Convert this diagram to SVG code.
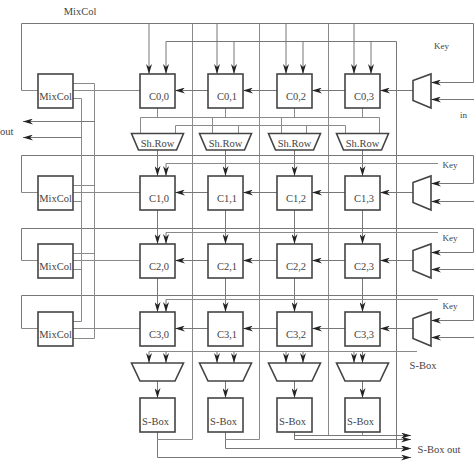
<svg xmlns="http://www.w3.org/2000/svg" width="474" height="461" viewBox="0 0 474 461">
<defs>
<marker id="ah" markerWidth="10" markerHeight="6" refX="10" refY="3" orient="auto" markerUnits="userSpaceOnUse"><path d="M0,0 L10,3 L0,6 L3,3 z" fill="#222"/></marker>
<style>
.c{fill:none;stroke:#8a8a8a;stroke-width:1}
.a{fill:none;stroke:#777;stroke-width:1;marker-end:url(#ah)}
.b{fill:#fff;stroke:#444;stroke-width:1.6}
.t{font-family:"Liberation Serif","Times New Roman",serif;font-size:10.5px;fill:#444;text-anchor:middle}
.k{font-family:"Liberation Serif","Times New Roman",serif;font-size:9px;fill:#444;text-anchor:middle}
</style>
</defs>
<rect width="474" height="461" fill="#fff"/>
<g id="connectors">
<path class="c" d="M192.5,23.5 V439.5 M259.5,23.5 V439.5 M328.5,23.5 V435.5"/>
<path class="a" d="M21.5,90.5 V23.5 H473.5 V82.5 H431"/>
<path class="c" d="M21.5,90.5 H140"/>
<path class="a" d="M166,41.5 H396.5 V448.5 H411"/>
<path class="a" d="M474,99.5 H431"/>
<path class="a" d="M149,23.5 V74"/><path class="a" d="M166,41.5 V74"/>
<path class="a" d="M217,23.5 V74"/><path class="a" d="M234,41.5 V74"/>
<path class="a" d="M286,23.5 V74"/><path class="a" d="M303,41.5 V74"/>
<path class="a" d="M354,23.5 V74"/><path class="a" d="M371,41.5 V74"/>
<path class="a" d="M208,90.5 H175"/><path class="a" d="M277,90.5 H243"/>
<path class="a" d="M345,90.5 H312"/><path class="a" d="M413,90.5 H380"/>
<path class="c" d="M157.5,108 V117.5 M225.5,108 V117.5 M294.5,108 V117.5 M362.5,108 V117.5"/>
<path class="c" d="M140.5,133 V117.5 H379.5 V133 M212.5,117.5 V133 M281.5,117.5 V133"/>
<path class="c" d="M175.5,133 V125.5 H345.5 V133 M238.5,125.5 V133 M306.5,125.5 V133"/>
<path class="a" d="M157.5,150 V176"/><path class="a" d="M225.5,150 V176"/><path class="a" d="M294.5,150 V176"/><path class="a" d="M362.5,150 V176"/>
<path class="a" d="M21.5,192.5 V155.5 H473.5 V183.5 H431"/>
<path class="c" d="M21.5,192.5 H140"/>
<path class="c" d="M166,163.5 H438"/>
<path class="a" d="M166,163.5 V176"/>
<path class="a" d="M474,201.5 H431"/>
<path class="a" d="M208,192.5 H175"/><path class="a" d="M277,192.5 H243"/><path class="a" d="M345,192.5 H312"/><path class="a" d="M413,192.5 H380"/>
<path class="a" d="M157.5,210 V244"/><path class="a" d="M225.5,210 V244"/><path class="a" d="M294.5,210 V244"/><path class="a" d="M362.5,210 V244"/>
<path class="a" d="M21.5,260.5 V228.5 H473.5 V252.5 H431"/>
<path class="c" d="M21.5,260.5 H140"/>
<path class="c" d="M166,232.5 H438"/>
<path class="a" d="M166,232.5 V244"/>
<path class="a" d="M474,269.5 H431"/>
<path class="a" d="M208,260.5 H175"/><path class="a" d="M277,260.5 H243"/><path class="a" d="M345,260.5 H312"/><path class="a" d="M413,260.5 H380"/>
<path class="a" d="M157.5,278 V312"/><path class="a" d="M225.5,278 V312"/><path class="a" d="M294.5,278 V312"/><path class="a" d="M362.5,278 V312"/>
<path class="a" d="M21.5,328.5 V295.5 H473.5 V320.5 H431"/>
<path class="c" d="M21.5,328.5 H140"/>
<path class="c" d="M166,299.5 H438"/>
<path class="a" d="M166,299.5 V312"/>
<path class="a" d="M474,337.5 H431"/>
<path class="a" d="M208,328.5 H175"/><path class="a" d="M277,328.5 H243"/><path class="a" d="M345,328.5 H312"/><path class="a" d="M413,328.5 H380"/>
<path class="c" d="M149,351.5 H417"/>
<path class="a" d="M149,351.5 V363"/><path class="a" d="M166,351.5 V363"/>
<path class="a" d="M217,351.5 V363"/><path class="a" d="M234,351.5 V363"/>
<path class="a" d="M286,351.5 V363"/><path class="a" d="M303,351.5 V363"/>
<path class="a" d="M354,351.5 V363"/><path class="a" d="M362.5,351.5 V363"/>
<path class="a" d="M157.5,381 V398"/><path class="a" d="M225.5,381 V398"/><path class="a" d="M294.5,381 V398"/><path class="a" d="M362.5,381 V398"/>
<path class="a" d="M157.5,432 V457.5 H411"/>
<path class="c" d="M157.5,439.5 H192.5"/>
<path class="a" d="M225.5,432 V448.5 H411"/>
<path class="c" d="M225.5,439.5 H259.5"/>
<path class="a" d="M294.5,432 V439.5 H411"/>
<path class="a" d="M294.5,435.5 H411"/>
<path class="c" d="M362.5,432 V435.5"/>
<path class="c" d="M73,83.5 H94.5 V338.5 H73 M73,98.5 H81.5 V321.5 H73"/>
<path class="c" d="M73,185.5 H94.5 M73,201.5 H81.5 M73,253.5 H94.5 M73,269.5 H81.5"/>
<path class="a" d="M94.5,121.5 H23"/>
<path class="a" d="M81.5,137.5 H23"/>
</g>
<g id="mixcol0"><rect class="b" x="38" y="74" width="35" height="34"/><text class="t" x="55.5" y="100">MixCol</text></g>
<g id="mixcol1"><rect class="b" x="38" y="176" width="35" height="34"/><text class="t" x="55.5" y="202">MixCol</text></g>
<g id="mixcol2"><rect class="b" x="38" y="244" width="35" height="34"/><text class="t" x="55.5" y="270">MixCol</text></g>
<g id="mixcol3"><rect class="b" x="38" y="312" width="35" height="34"/><text class="t" x="55.5" y="338">MixCol</text></g>
<g id="c00"><rect class="b" x="140" y="74" width="35" height="34"/><text class="t" x="159" y="100">C0,0</text></g>
<g id="c01"><rect class="b" x="208" y="74" width="35" height="34"/><text class="t" x="227" y="100">C0,1</text></g>
<g id="c02"><rect class="b" x="277" y="74" width="35" height="34"/><text class="t" x="296" y="100">C0,2</text></g>
<g id="c03"><rect class="b" x="345" y="74" width="35" height="34"/><text class="t" x="364" y="100">C0,3</text></g>
<g id="c10"><rect class="b" x="140" y="176" width="35" height="34"/><text class="t" x="159" y="202">C1,0</text></g>
<g id="c11"><rect class="b" x="208" y="176" width="35" height="34"/><text class="t" x="227" y="202">C1,1</text></g>
<g id="c12"><rect class="b" x="277" y="176" width="35" height="34"/><text class="t" x="296" y="202">C1,2</text></g>
<g id="c13"><rect class="b" x="345" y="176" width="35" height="34"/><text class="t" x="364" y="202">C1,3</text></g>
<g id="c20"><rect class="b" x="140" y="244" width="35" height="34"/><text class="t" x="159" y="270">C2,0</text></g>
<g id="c21"><rect class="b" x="208" y="244" width="35" height="34"/><text class="t" x="227" y="270">C2,1</text></g>
<g id="c22"><rect class="b" x="277" y="244" width="35" height="34"/><text class="t" x="296" y="270">C2,2</text></g>
<g id="c23"><rect class="b" x="345" y="244" width="35" height="34"/><text class="t" x="364" y="270">C2,3</text></g>
<g id="c30"><rect class="b" x="140" y="312" width="35" height="34"/><text class="t" x="159" y="338">C3,0</text></g>
<g id="c31"><rect class="b" x="208" y="312" width="35" height="34"/><text class="t" x="227" y="338">C3,1</text></g>
<g id="c32"><rect class="b" x="277" y="312" width="35" height="34"/><text class="t" x="296" y="338">C3,2</text></g>
<g id="c33"><rect class="b" x="345" y="312" width="35" height="34"/><text class="t" x="364" y="338">C3,3</text></g>
<g id="shrow0"><polygon class="b" points="131.5,133.5 183.5,133.5 176.5,150 138.5,150"/><text class="t" x="157.5" y="147">Sh.Row</text></g>
<g id="shrow1"><polygon class="b" points="199.5,133.5 251.5,133.5 244.5,150 206.5,150"/><text class="t" x="225.5" y="147">Sh.Row</text></g>
<g id="shrow2"><polygon class="b" points="268.5,133.5 320.5,133.5 313.5,150 275.5,150"/><text class="t" x="294.5" y="147">Sh.Row</text></g>
<g id="shrow3"><polygon class="b" points="336.5,133.5 388.5,133.5 381.5,150 343.5,150"/><text class="t" x="362.5" y="147">Sh.Row</text></g>
<g id="keymux0"><polygon class="b" points="413,80.5 431,74 431,108 413,100.5"/></g>
<g id="keymux1"><polygon class="b" points="413,182.5 431,176 431,210 413,202.5"/></g>
<g id="keymux2"><polygon class="b" points="413,250.5 431,244 431,278 413,270.5"/></g>
<g id="keymux3"><polygon class="b" points="413,318.5 431,312 431,346 413,338.5"/></g>
<g id="mux0"><polygon class="b" points="131.5,363 183.5,363 175,381 140,381"/></g>
<g id="mux1"><polygon class="b" points="199.5,363 251.5,363 243,381 208,381"/></g>
<g id="mux2"><polygon class="b" points="268.5,363 320.5,363 312,381 277,381"/></g>
<g id="mux3"><polygon class="b" points="336.5,363 388.5,363 380,381 345,381"/></g>
<g id="sbox0"><rect class="b" x="140" y="398" width="35" height="34"/><text class="t" x="155.5" y="424.5">S-Box</text></g>
<g id="sbox1"><rect class="b" x="208" y="398" width="35" height="34"/><text class="t" x="223.5" y="424.5">S-Box</text></g>
<g id="sbox2"><rect class="b" x="277" y="398" width="35" height="34"/><text class="t" x="292.5" y="424.5">S-Box</text></g>
<g id="sbox3"><rect class="b" x="345" y="398" width="35" height="34"/><text class="t" x="360.5" y="424.5">S-Box</text></g>
<g id="labels">
<text class="t" x="80" y="15">MixCol</text>
<text class="t" x="13.5" y="134.5" style="text-anchor:end">out</text>
<text class="k" x="441.5" y="49">Key</text>
<text class="k" x="463.5" y="117.5">in</text>
<text class="k" x="450" y="168">Key</text>
<text class="k" x="450" y="240.5">Key</text>
<text class="k" x="450" y="309">Key</text>
<text class="t" x="423" y="368.5">S-Box</text>
<text class="t" x="439" y="452.5">S-Box out</text>
</g>
</svg>
